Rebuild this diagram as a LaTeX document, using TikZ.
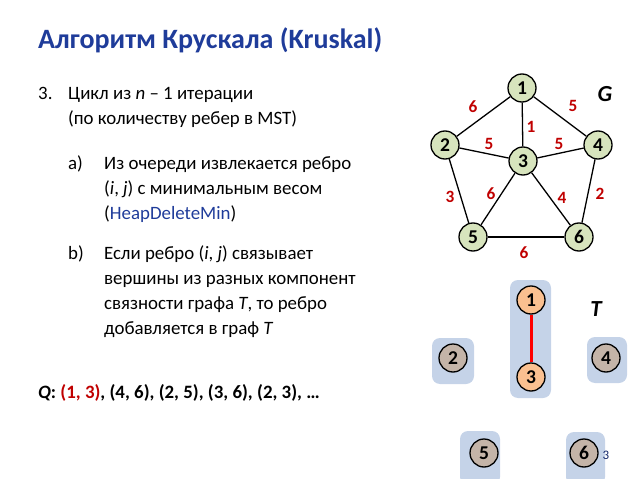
\documentclass[tikz,border=0pt]{standalone}
\usepackage{fontspec}
\usepackage{graphicx}
\setmainfont{Carlito}
\definecolor{ttl}{HTML}{1F3C9A}
\definecolor{wred}{HTML}{C00000}
\definecolor{ngreen}{HTML}{D7E4BD}
\definecolor{norange}{HTML}{FAC090}
\definecolor{ngray}{HTML}{C4B4A8}
\definecolor{bgblue}{HTML}{C5D3E8}
\newcommand\bodyfnt{\fontsize{17}{22}\selectfont}
\newcommand\nodefnt{\fontsize{17}{20}\selectfont\bfseries}
\newcommand\wtfnt{\fontsize{15}{18}\selectfont\bfseries}
\newcommand\gtfnt{\fontsize{20}{22}\selectfont\bfseries\itshape}
\newcommand\SB[1]{\scalebox{1.11}{#1}}
\newcommand\SN[1]{\scalebox{1.15}{#1}}
\begin{document}
\begin{tikzpicture}[x=1pt,y=-1pt,
  gv/.style={circle,draw,line width=1.3pt,fill=ngreen,minimum size=28pt,inner sep=0pt,font=\nodefnt},
  tv/.style={gv,fill=ngray},
  to/.style={gv,fill=norange},
  ed/.style={line width=1.3pt},
  wt/.style={text=wred,font=\wtfnt},
  bg/.style={fill=bgblue,rounded corners=8pt,draw=none},
  tx/.style={anchor=base west,font=\bodyfnt,inner sep=0pt}]
\useasboundingbox (0,0) rectangle (638,479);
\node[anchor=base west,inner sep=0pt,text=ttl,font=\fontsize{28}{30}\selectfont\bfseries] (title) at (38,48) {Алгоритм Крускала (Kruskal)};
\node[tx] (n3) at (38,99) {\SB{3.}};
\node[tx] (l1) at (68,99) {\SB{Цикл из \textit{n} – 1 итерации}};
\node[tx] (l2) at (68,124) {\SB{(по количеству ребер в MST)}};
\node[tx] (a) at (68,169) {\SB{a)}};
\node[tx] (a1) at (104,169) {\SB{Из очереди извлекается ребро}};
\node[tx] (a2) at (104,194) {\SB{(\textit{i}, \textit{j}) с минимальным весом}};
\node[tx] (a3) at (104,219) {\SB{(\textcolor{ttl}{HeapDeleteMin})}};
\node[tx] (b) at (68,259) {\SB{b)}};
\node[tx] (b1) at (104,259) {\SB{Если ребро (\textit{i}, \textit{j}) связывает}};
\node[tx] (b2) at (104,284) {\SB{вершины из разных компонент}};
\node[tx] (b3) at (104,309) {\SB{связности графа \textit{T}, то ребро}};
\node[tx] (b4) at (104,334) {\SB{добавляется в граф \textit{T}}};
\node[tx,font=\bodyfnt\bfseries] (q) at (38,398) {\SB{\textit{Q}: \textcolor{wred}{(1, 3)}, (4, 6), (2, 5), (3, 6), (2, 3), …}};
% graph G
\node[gv] (g1) at (522,88) {\SN{1}};
\node[gv] (g2) at (445,145) {\SN{2}};
\node[gv] (g3) at (523,161) {\SN{3}};
\node[gv] (g4) at (598,145) {\SN{4}};
\node[gv] (g5) at (473,237) {\SN{5}};
\node[gv] (g6) at (579,237) {\SN{6}};
\draw[ed] (g1)--(g2); \draw[ed] (g1)--(g3); \draw[ed] (g1)--(g4);
\draw[ed] (g2)--(g3); \draw[ed] (g3)--(g4); \draw[ed] (g2)--(g5);
\draw[ed] (g3)--(g5); \draw[ed] (g3)--(g6); \draw[ed] (g4)--(g6);
\draw[ed] (g5)--(g6);
\node[wt] (w12) at (473,107) {\SN{6}};
\node[wt] (w14) at (573,106) {\SN{5}};
\node[wt] (w13) at (531,127) {\SN{1}};
\node[wt] (w23) at (489,144) {\SN{5}};
\node[wt] (w34) at (559,144) {\SN{5}};
\node[wt] (w25) at (450,197) {\SN{3}};
\node[wt] (w35) at (491,194) {\SN{6}};
\node[wt] (w36) at (562,198) {\SN{4}};
\node[wt] (w46) at (600,194) {\SN{2}};
\node[wt] (w56) at (524,253) {\SN{6}};
\node[font=\gtfnt] (G) at (605,94) {\SN{G}};
\node[font=\gtfnt] (T) at (596,309) {\SN{T}};
% tree T
\fill[bg] (510,280) rectangle (551,398);
\fill[bg] (432,338) rectangle (474,384);
\fill[bg] (587,337) rectangle (627,383);
\fill[bg] (460,431) rectangle (500,485);
\fill[bg] (566,432) rectangle (605,485);
\node[to] (t1) at (531,300) {\SN{1}};
\node[to] (t3) at (531,377) {\SN{3}};
\node[tv] (t2) at (453,358) {\SN{2}};
\node[tv] (t4) at (606,358) {\SN{4}};
\node[tv] (t5) at (484,453) {\SN{5}};
\node[tv] (t6) at (584,453) {\SN{6}};
\draw[line width=3pt,red] (t1)--(t3);
\node[font=\fontsize{13}{13}\selectfont,text=ttl!70!black,inner sep=0pt] (pg) at (606,455) {3};
\end{tikzpicture}
\end{document}
